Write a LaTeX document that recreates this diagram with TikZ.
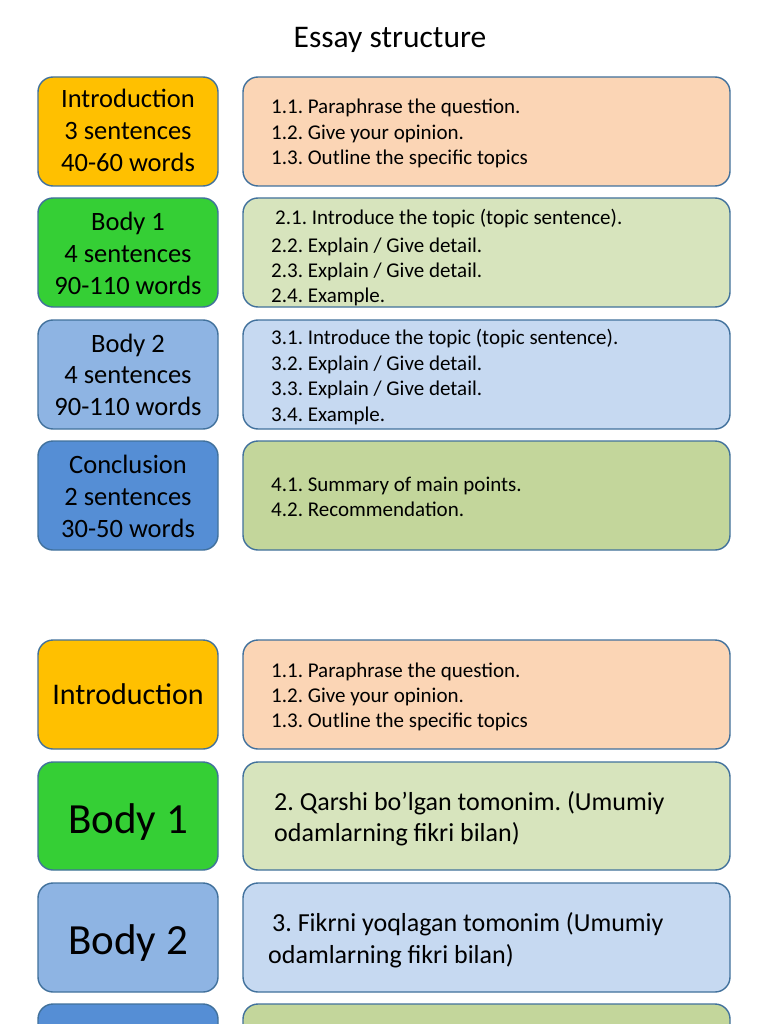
\documentclass[tikz,border=0pt]{standalone}
\usepackage{fontspec}
\setmainfont{Carlito}
\frenchspacing
\definecolor{bordc}{HTML}{41719C}
\definecolor{introc}{HTML}{FFC000}
\definecolor{peachc}{HTML}{FBD5B5}
\definecolor{greenc}{HTML}{35CF35}
\definecolor{lgreenc}{HTML}{D7E4BD}
\definecolor{bluec}{HTML}{8EB4E3}
\definecolor{lbluec}{HTML}{C6D9F1}
\definecolor{concc}{HTML}{558ED5}
\definecolor{olivec}{HTML}{C3D69B}
\tikzset{
  lbox/.style={draw=bordc, line width=1.4pt, rounded corners=15pt, minimum width=180pt, inner sep=0pt},
  rbox/.style={draw=bordc, line width=1.4pt, rounded corners=15pt, minimum width=487pt, inner sep=0pt},
  rtxt/.style={anchor=base west, inner sep=0pt, font=\fontsize{21}{25}\selectfont},
  ltxt/.style={anchor=base, inner sep=0pt, font=\fontsize{26.5}{31}\selectfont},
  btxt/.style={anchor=base west, inner sep=0pt, font=\fontsize{26}{31}\selectfont},
}
\begin{document}
\begin{tikzpicture}[x=1pt,y=-1pt]
\useasboundingbox (0,0) rectangle (768,1024);
\clip (0,0) rectangle (768,1024);
\fill[white] (0,0) rectangle (768,1024);
% title
\node[anchor=base, inner sep=0pt, font=\fontsize{31.5}{36}\selectfont] (title) at (390,48) {Essay structure};
% group 1 boxes
\node[lbox, fill=introc, minimum height=109pt] (l1) at (128,131.5) {};
\node[rbox, fill=peachc, minimum height=109pt] (r1) at (486.5,131.5) {};
\node[lbox, fill=greenc, minimum height=109pt] (l2) at (128,252.5) {};
\node[rbox, fill=lgreenc, minimum height=109pt] (r2) at (486.5,252.5) {};
\node[lbox, fill=bluec, minimum height=109pt] (l3) at (128,374.5) {};
\node[rbox, fill=lbluec, minimum height=109pt] (r3) at (486.5,374.5) {};
\node[lbox, fill=concc, minimum height=109pt] (l4) at (128,495.5) {};
\node[rbox, fill=olivec, minimum height=109pt] (r4) at (486.5,495.5) {};
% group 1 left texts
\node[ltxt] (l1a) at (128,108) {Introduction};
\node[ltxt] (l1b) at (128,140) {3 sentences};
\node[ltxt] (l1c) at (128,172) {40-60 words};
\node[ltxt] (l2a) at (128,231) {Body 1};
\node[ltxt] (l2b) at (128,262) {4 sentences};
\node[ltxt] (l2c) at (128,294) {90-110 words};
\node[ltxt] (l3a) at (128,352) {Body 2};
\node[ltxt] (l3b) at (128,383) {4 sentences};
\node[ltxt] (l3c) at (128,415) {90-110 words};
\node[ltxt] (l4a) at (128,473) {Conclusion};
\node[ltxt] (l4b) at (128,505) {2 sentences};
\node[ltxt] (l4c) at (128,537) {30-50 words};
% group 1 right texts
\node[rtxt] (r1a) at (271,114) {1.1. Paraphrase the question.};
\node[rtxt] (r1b) at (271,140) {1.2. Give your opinion.};
\node[rtxt] (r1c) at (271,165) {1.3. Outline the specific topics};
\node[rtxt] (r2a) at (275,225) {2.1. Introduce the topic (topic sentence).};
\node[rtxt] (r2b) at (271,252) {2.2. Explain / Give detail.};
\node[rtxt] (r2c) at (271,277) {2.3. Explain / Give detail.};
\node[rtxt] (r2d) at (271,302) {2.4. Example.};
\node[rtxt] (r3a) at (271,344) {3.1. Introduce the topic (topic sentence).};
\node[rtxt] (r3b) at (271,370) {3.2. Explain / Give detail.};
\node[rtxt] (r3c) at (271,395) {3.3. Explain / Give detail.};
\node[rtxt] (r3d) at (271,421) {3.4. Example.};
\node[rtxt] (r4a) at (271,491) {4.1. Summary of main points.};
\node[rtxt] (r4b) at (271,516) {4.2. Recommendation.};
% group 2 boxes
\node[lbox, fill=introc, minimum height=109pt] (m1) at (128,694.5) {};
\node[rbox, fill=peachc, minimum height=109pt] (s1) at (486.5,694.5) {};
\node[lbox, fill=greenc, minimum height=108pt] (m2) at (128,816) {};
\node[rbox, fill=lgreenc, minimum height=108pt] (s2) at (486.5,816) {};
\node[lbox, fill=bluec, minimum height=109pt] (m3) at (128,937.5) {};
\node[rbox, fill=lbluec, minimum height=109pt] (s3) at (486.5,937.5) {};
\node[lbox, fill=concc, minimum height=109pt] (m4) at (128,1058.5) {};
\node[rbox, fill=olivec, minimum height=109pt] (s4) at (486.5,1058.5) {};
% group 2 texts
\node[anchor=base, inner sep=0pt, font=\fontsize{30}{36}\selectfont] (m1a) at (128,704) {Introduction};
\node[anchor=base, inner sep=0pt, font=\fontsize{43}{50}\selectfont] (m2a) at (128,833) {Body 1};
\node[anchor=base, inner sep=0pt, font=\fontsize{43}{50}\selectfont] (m3a) at (128,954) {Body 2};
\node[rtxt] (s1a) at (271,677) {1.1. Paraphrase the question.};
\node[rtxt] (s1b) at (271,702) {1.2. Give your opinion.};
\node[rtxt] (s1c) at (271,727) {1.3. Outline the specific topics};
\node[btxt] (s2a) at (274,810) {2. Qarshi bo’lgan tomonim. (Umumiy};
\node[btxt] (s2b) at (274,841) {odamlarning fikri bilan)};
\node[btxt] (s3a) at (272,931) {3. Fikrni yoqlagan tomonim (Umumiy};
\node[btxt] (s3b) at (268,963) {odamlarning fikri bilan)};
\end{tikzpicture}
\end{document}
